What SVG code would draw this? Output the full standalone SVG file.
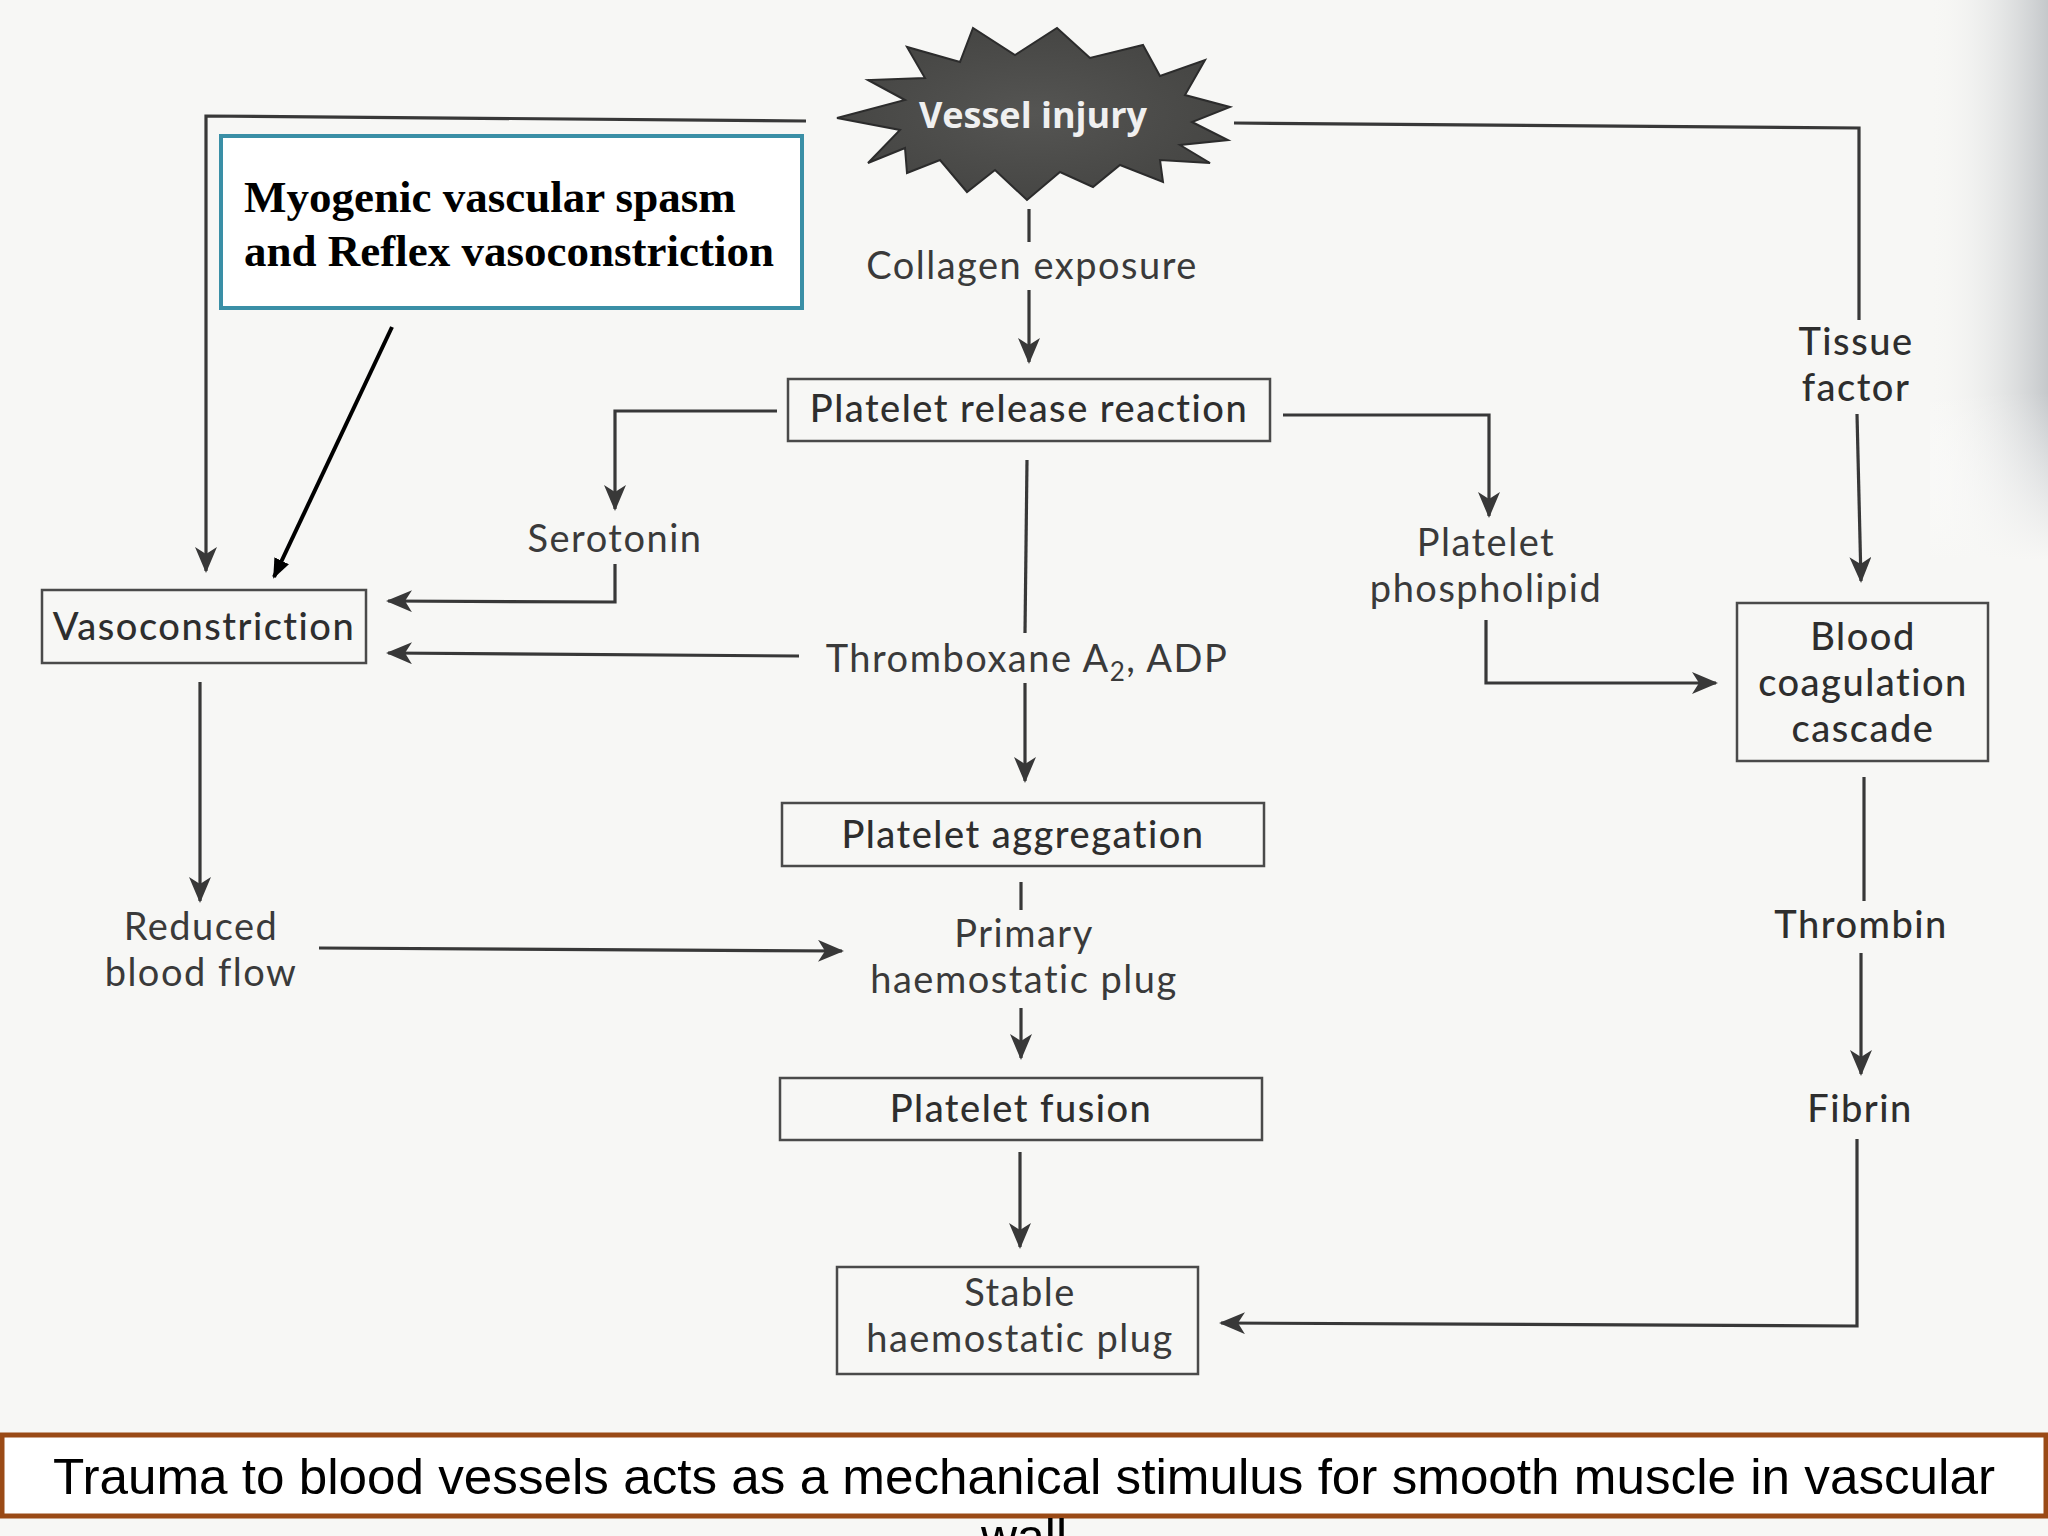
<svg xmlns="http://www.w3.org/2000/svg" width="2048" height="1536" viewBox="0 0 2048 1536">
<style>
.bg{fill:#f7f7f5}
.lbl{font-family:Lato,"Open Sans","DejaVu Sans",sans-serif;font-size:38px;letter-spacing:1.5px;fill:#3a3a3a;text-anchor:middle}
.lblm{font-family:Lato,"Open Sans","DejaVu Sans",sans-serif;font-size:38px;letter-spacing:1.5px;font-weight:500;fill:#2e2e2e;text-anchor:middle}
.box{fill:none;stroke:#4a4a4a;stroke-width:2.5}
.con{fill:none;stroke:#383838;stroke-width:3.2}
.myo{font-family:"Liberation Serif","Times New Roman",serif;font-size:45px;font-weight:bold;fill:#000}
</style>
<defs>
<marker id="ah" viewBox="0 0 26 22" refX="24" refY="11" markerWidth="26" markerHeight="22" markerUnits="userSpaceOnUse" orient="auto">
<path d="M0,0 L26,11 L0,22 L7,11 z" fill="#383838"/>
</marker>
<marker id="bk" viewBox="0 0 20 20" refX="18" refY="10" markerWidth="20" markerHeight="20" markerUnits="userSpaceOnUse" orient="auto">
<path d="M0,2 L20,10 L0,18 z" fill="#000"/>
</marker>
<linearGradient id="shade" x1="0" y1="0" x2="1" y2="0">
<stop offset="0" stop-color="#f7f7f5" stop-opacity="0"/>
<stop offset="1" stop-color="#b8bcc0" stop-opacity="0.8"/>
</linearGradient>
<linearGradient id="shadev" x1="0" y1="0" x2="0" y2="1">
<stop offset="0" stop-color="#fff" stop-opacity="0"/>
<stop offset="0.7" stop-color="#fff" stop-opacity="0"/>
<stop offset="1" stop-color="#f7f7f5" stop-opacity="1"/>
</linearGradient>
<radialGradient id="starfill" cx="0.5" cy="0.5" r="0.6">
<stop offset="0" stop-color="#555553"/>
<stop offset="1" stop-color="#434341"/>
</radialGradient>
</defs>
<rect class="bg" x="0" y="0" width="2048" height="1536"/>
<rect x="1930" y="0" width="118" height="560" fill="url(#shade)"/>
<rect x="1930" y="0" width="118" height="560" fill="url(#shadev)"/>

<g id="connectors">
<path class="con" d="M806,121 L206,116 L206,571" marker-end="url(#ah)"/>
<path class="con" d="M1234,123 L1859,128 L1859,320"/>
<path class="con" d="M1857,414 L1861,581" marker-end="url(#ah)"/>
<path class="con" d="M1029,209 L1029,242"/>
<path class="con" d="M1029,290 L1029,362" marker-end="url(#ah)"/>
<path class="con" d="M777,411 L615,411 L615,509" marker-end="url(#ah)"/>
<path class="con" d="M615,564 L615,602 L388,601" marker-end="url(#ah)"/>
<path class="con" d="M1027,460 L1025,633"/>
<path class="con" d="M799,656 L388,653" marker-end="url(#ah)"/>
<path class="con" d="M1025,683 L1025,781" marker-end="url(#ah)"/>
<path class="con" d="M1283,415 L1489,415 L1489,516" marker-end="url(#ah)"/>
<path class="con" d="M1486,620 L1486,683 L1716,683" marker-end="url(#ah)"/>
<path class="con" d="M1864,777 L1864,901"/>
<path class="con" d="M1861,953 L1861,1074" marker-end="url(#ah)"/>
<path class="con" d="M1857,1139 L1857,1326 L1221,1323" marker-end="url(#ah)"/>
<path class="con" d="M1021,882 L1021,910"/>
<path class="con" d="M1021,1008 L1021,1058" marker-end="url(#ah)"/>
<path class="con" d="M200,682 L200,901" marker-end="url(#ah)"/>
<path class="con" d="M319,948 L842,951" marker-end="url(#ah)"/>
<path class="con" d="M1020,1152 L1020,1247" marker-end="url(#ah)"/>
<path d="M392,327 L274,577" fill="none" stroke="#000" stroke-width="4" marker-end="url(#bk)"/>
</g>

<g id="vessel-injury">
<polygon points="837,118 905,100 868,80 925,78 907,47 960,62 973,28 1015,55 1057,28 1090,58 1143,45 1160,76 1205,60 1185,95 1230,107 1192,122 1228,140 1180,145 1210,163 1160,160 1163,182 1120,165 1093,187 1060,172 1027,200 995,170 967,192 940,160 907,173 905,148 868,163 900,130" fill="url(#starfill)" stroke="#2c2c2c" stroke-width="2"/>
<text x="1033" y="128" font-family="Open Sans, Noto Sans, sans-serif" font-size="36" font-weight="bold" fill="#f0f0f0" text-anchor="middle">Vessel injury</text>
</g>

<g id="myogenic">
<rect x="221" y="136" width="581" height="172" fill="#fff" stroke="#3a8fa6" stroke-width="4"/>
<text class="myo"><tspan x="244" y="212">Myogenic vascular spasm</tspan><tspan x="244" y="266">and Reflex vasoconstriction</tspan></text>
</g>

<g id="collagen"><text class="lbl" x="1032" y="279">Collagen exposure</text></g>

<g id="platelet-release">
<rect class="box" x="788" y="379" width="482" height="62"/>
<text class="lblm" x="1029" y="422">Platelet release reaction</text>
</g>

<g id="serotonin"><text class="lbl" x="615" y="552">Serotonin</text></g>

<g id="vasoconstriction">
<rect class="box" x="42" y="590" width="324" height="73"/>
<text class="lblm" x="204" y="640">Vasoconstriction</text>
</g>

<g id="thromboxane"><text class="lbl" x="1027" y="672">Thromboxane A<tspan font-size="26" dy="9">2</tspan><tspan dy="-9">, ADP</tspan></text></g>

<g id="phospholipid">
<text class="lbl"><tspan x="1486" y="556">Platelet</tspan><tspan x="1486" y="602">phospholipid</tspan></text>
</g>

<g id="tissue-factor">
<text class="lblm"><tspan x="1856" y="355">Tissue</tspan><tspan x="1856" y="401">factor</tspan></text>
</g>

<g id="coagulation">
<rect class="box" x="1737" y="603" width="251" height="158"/>
<text class="lblm"><tspan x="1863" y="650">Blood</tspan><tspan x="1863" y="696">coagulation</tspan><tspan x="1863" y="742">cascade</tspan></text>
</g>

<g id="thrombin"><text class="lblm" x="1861" y="938">Thrombin</text></g>
<g id="fibrin"><text class="lblm" x="1860" y="1122">Fibrin</text></g>

<g id="aggregation">
<rect class="box" x="782" y="803" width="482" height="63"/>
<text class="lblm" x="1023" y="848">Platelet aggregation</text>
</g>

<g id="primary-plug">
<text class="lbl"><tspan x="1024" y="947">Primary</tspan><tspan x="1024" y="993">haemostatic plug</tspan></text>
</g>

<g id="reduced-flow">
<text class="lbl"><tspan x="201" y="940">Reduced</tspan><tspan x="201" y="986">blood flow</tspan></text>
</g>

<g id="fusion">
<rect class="box" x="780" y="1078" width="482" height="62"/>
<text class="lblm" x="1021" y="1122">Platelet fusion</text>
</g>

<g id="stable-plug">
<rect class="box" x="837" y="1267" width="361" height="107"/>
<text class="lbl"><tspan x="1020" y="1306">Stable</tspan><tspan x="1020" y="1352">haemostatic plug</tspan></text>
</g>

<g id="banner">
<rect x="2" y="1435" width="2044" height="81" fill="#fff" stroke="#9a4a16" stroke-width="5"/>
<text font-family="Liberation Sans, Arial, sans-serif" font-size="50" fill="#000" text-anchor="middle"><tspan x="1024" y="1494" textLength="1942" lengthAdjust="spacingAndGlyphs">Trauma to blood vessels acts as a mechanical stimulus for smooth muscle in vascular</tspan><tspan x="1024" y="1554">wall</tspan></text>
</g>
</svg>
